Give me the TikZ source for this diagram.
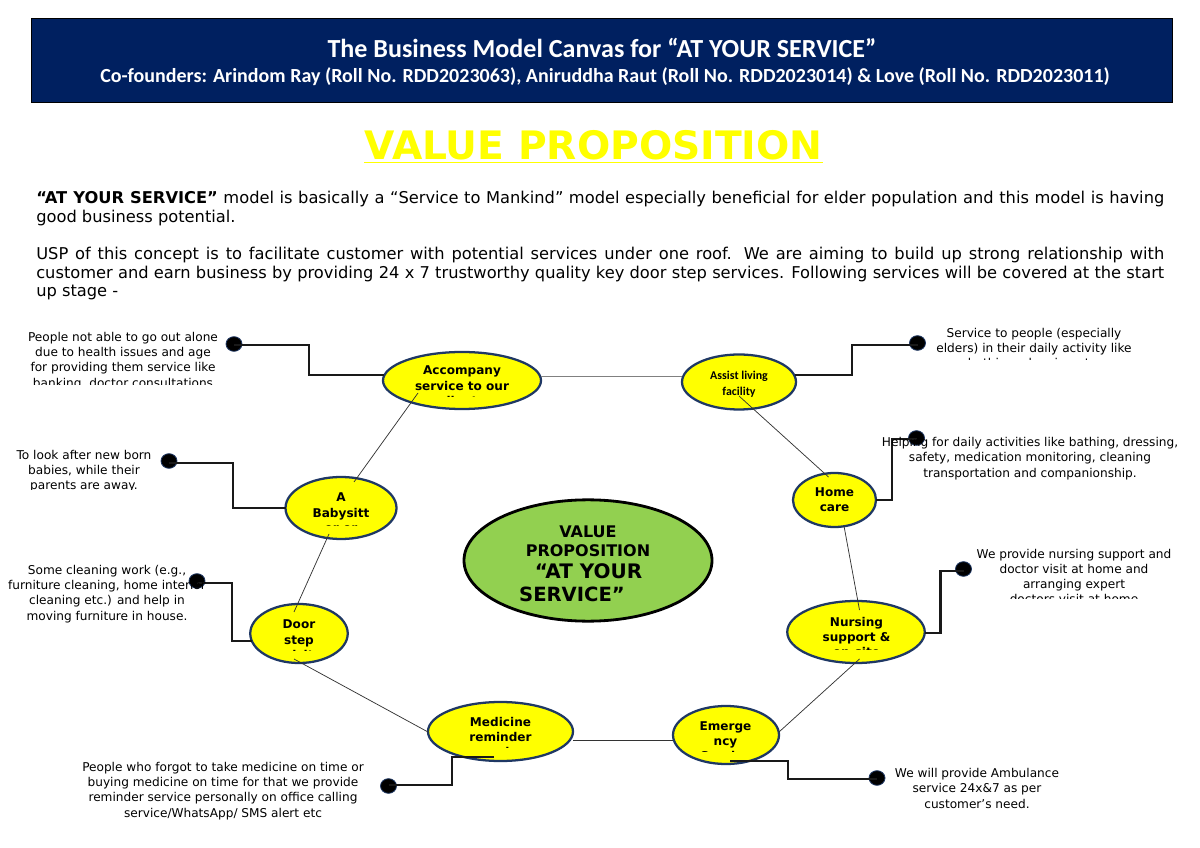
\documentclass[tikz,border=0pt]{standalone}
\usepackage{fontspec}
\setmainfont{DejaVu Sans}
\newfontfamily\calib{Carlito}
\usetikzlibrary{shapes.geometric,calc}
\definecolor{navy}{HTML}{002060}
\definecolor{rimblue}{HTML}{1F3864}
\definecolor{oval}{HTML}{FFFF00}
\definecolor{centre}{HTML}{92D050}
\newcommand{\lblfont}{\fontsize{9.1}{11.4}\selectfont}
\newcommand{\ovalfont}{\fontsize{9.05}{11.4}\selectfont\bfseries}
\tikzset{
  oel/.style 2 args={ellipse,draw=rimblue,line width=1.7pt,fill=oval,inner sep=0pt,outer sep=0pt,minimum width=#1*.75pt,minimum height=#2*.75pt},
  dotn/.style={ellipse,draw=rimblue,line width=.6pt,fill=black,inner sep=0pt,minimum width=12pt,minimum height=11pt},
  link/.style={line width=.55pt,draw=black!80},
  elbow/.style={line width=1.7pt,draw=black!90,line join=miter},
  lbl/.style={font=\lblfont,align=center,inner sep=0pt,yshift=-1.5pt,execute at begin node=\strut,execute at end node=\strut},
  olbl/.style={font=\ovalfont,align=center,inner sep=0pt,yshift=-1.5pt,execute at begin node=\strut,execute at end node=\strut},
}
\begin{document}
\begin{tikzpicture}[x=.75pt,y=-.75pt]
\useasboundingbox (0,0) rectangle (1200,848);
\fill[white] (0,0) rectangle (1200,848);
% header
\node[draw=black,line width=.6pt,fill=navy,minimum width=855.75pt,minimum height=63pt,inner sep=0pt] (hdr) at (601.5,60) {};
\node[text=white,inner sep=0pt,font=\calib\fontsize{19.55}{22}\selectfont\bfseries] (ttl) at (602,48) {The Business Model Canvas for “AT YOUR SERVICE”};
\node[text=white,inner sep=0pt,font=\calib\fontsize{15}{18}\selectfont\bfseries] (sub) at (605,77) {Co-founders: Arindom Ray (Roll No. RDD2023063), Aniruddha Raut (Roll No. RDD2023014) \& Love (Roll No. RDD2023011)};
% heading
\node[text=oval,inner sep=0pt,font=\fontsize{29.4}{32}\selectfont\bfseries] (vp) at (593.5,147) {\underline{VALUE PROPOSITION}};
% paragraph
\node[anchor=north west,inner sep=0pt,text width=846pt,align=justify,font=\fontsize{12.2}{14}\selectfont] (para) at (36,191) {\tolerance=9999\hbadness=10000\hfuzz=20pt\textbf{“AT YOUR SERVICE”} model is basically a “Service to Mankind” model especially beneficial for elder population and this model is having\linebreak good business potential.\\[14pt]
USP of this concept is to facilitate customer with potential services under one roof. We are aiming to build up strong relationship with\linebreak customer and earn business by providing 24 x 7 trustworthy quality key door step services. Following services will be covered at the start\linebreak up stage -};
% ovals
\node[oel={158}{57}] (acc) at (462,380.5) {};
\node[oel={114}{55}] (assist) at (739,382) {};
\node[oel={83}{54}] (home) at (834.5,500) {};
\node[oel={137.5}{62}] (nurs) at (856,632) {};
\node[oel={106}{58}] (emer) at (726,735) {};
\node[oel={145}{59}] (med) at (500.5,731.5) {};
\node[oel={97.5}{59}] (door) at (299,633.5) {};
\node[oel={111}{62}] (baby) at (341,508) {};
\node[ellipse,draw=black,line width=2.1pt,fill=centre,inner sep=0pt,minimum width=186pt,minimum height=91pt] (val) at (588,560.5) {};
% dots
\node[dotn] (d1) at (234,344) {};
\node[dotn] (d2) at (169,461) {};
\node[dotn] (d3) at (197,581) {};
\node[dotn] (d4) at (388.5,786) {};
\node[dotn] (d5) at (877,778) {};
\node[dotn] (d6) at (963.5,569) {};
\node[dotn] (d7) at (916.5,438) {};
\node[dotn] (d8) at (917.5,343) {};
% thin links
\draw[link,draw=black!50] ($(acc)+(79,-3.8)$) -- ($(assist)+(-57,-5.3)$);
\draw[link] ($(acc)+(-44,12.5)$) -- ($(baby)+(13,-26)$);
\draw[link] ($(baby)+(-12,26)$) -- ($(door)+(-5,-21.5)$);
\draw[link] ($(door)+(-5,25.5)$) -- ($(med)+(-72.5,0.5)$);
\draw[link] ($(med)+(72.5,8.5)$) -- ($(emer)+(-53,5)$);
\draw[link] ($(emer)+(53,-3)$) -- ($(nurs)+(3.5,27)$);
\draw[link] ($(nurs)+(3.5,-22)$) -- ($(home)+(9.5,26)$);
\draw[link] ($(home)+(-6,-23)$) -- ($(assist)+(0,14)$);
% elbows
\draw[elbow] ($(d1)+(0,1)$) -- (309,345) -- (309,375) -- ($(acc)+(-78,-5.5)$);
\draw[elbow] ($(d2)+(0,2)$) -- (233,463) -- (233,508) -- (baby.west);
\draw[elbow] ($(d3)+(0,2)$) -- (232,583) -- (232,641) -- ($(door)+(-47,7.5)$);
\draw[elbow] ($(d4)+(0,-1)$) -- (452,785) -- (452,757) -- ($(med)+(-6.5,25.5)$);
\draw[elbow] ($(d5)+(0,1)$) -- (788,779) -- (788,761) -- ($(emer)+(4,26)$);
\draw[elbow] ($(d6)+(0,2)$) -- (940.5,571) -- (940.5,633) -- ($(nurs)+(68.5,1)$);
\draw[elbow] ($(d7)+(0,1)$) -- (892,439) -- (892,500) -- (home.east);
\draw[elbow] ($(d8)+(0,2)$) -- (852,345) -- (852,375) -- ($(assist)+(56,-7)$);
% oval texts
\node[font=\calib\fontsize{8.95}{11.8}\selectfont\bfseries,align=center,inner sep=0pt,yshift=-1.5pt] (tassist) at (739,382) {Assist living\\facility};
\node[olbl] (thome) at (834.5,500) {Home\\care};
\begin{scope}\clip (0,0) rectangle (1200,397);\node[olbl] (tacc) at (462,386) {Accompany\\service to our\\clients};\end{scope}
\begin{scope}\clip (0,0) rectangle (1200,525.5);\node[olbl] (tbaby) at (341,513) {A\\Babysitt\\er or};\end{scope}
\begin{scope}\clip (0,0) rectangle (1200,650);\node[olbl] (tdoor) at (299,640) {Door\\step\\visit};\end{scope}
\begin{scope}\clip (0,0) rectangle (1200,747.5);\node[olbl] (tmed) at (500.5,737) {Medicine\\reminder\\service};\end{scope}
\begin{scope}\clip (0,0) rectangle (1200,751);\node[olbl] (temer) at (725.5,741.5) {Emerge\\ncy\\Service};\end{scope}
\begin{scope}\clip (0,0) rectangle (1200,649.5);\node[olbl] (tnurs) at (856.5,637) {Nursing\\support \&\\on-site};\end{scope}
% centre text
\node[inner sep=0pt,align=center,font=\fontsize{12}{14}\selectfont\bfseries] (tv1) at (588,541) {VALUE\\PROPOSITION};
\begin{scope}\clip (0,0) rectangle (1200,602);
\node[inner sep=0pt,font=\fontsize{15}{17}\selectfont\bfseries] (tv2) at (588.5,571.5) {“AT YOUR};
\node[inner sep=0pt,font=\fontsize{14.7}{17}\selectfont\bfseries] (tv3) at (572,594) {SERVICE”};
\end{scope}
% labels
\begin{scope}\clip (0,0) rectangle (1200,385);\node[lbl] (t1) at (123,360) {People not able to go out alone\\due to health issues and age\\for providing them service like\\banking, doctor consultations};\end{scope}
\begin{scope}\clip (0,0) rectangle (1200,490);\node[lbl] (t2) at (84,470) {To look after new born\\babies, while their\\parents are away.};\end{scope}
\node[lbl] (t3) at (107,593) {Some cleaning work (e.g.,\\furniture cleaning, home interior\\cleaning etc.) and help in\\moving furniture in house.};
\node[lbl] (t4) at (223,790) {People who forgot to take medicine on time or\\buying medicine on time for that we provide\\reminder service personally on office calling\\service/WhatsApp/ SMS alert etc};
\node[lbl] (t5) at (977,788.5) {We will provide Ambulance\\service 24x\&7 as per\\customer’s need.};
\begin{scope}\clip (0,0) rectangle (1200,598);\node[lbl] (t6) at (1074,576.5) {We provide nursing support and\\doctor visit at home and\\arranging expert\\doctors visit at home};\end{scope}
\node[lbl] (t7) at (1030,457.5) {Helping for daily activities like bathing, dressing,\\safety, medication monitoring, cleaning\\transportation and companionship.};
\begin{scope}\clip (0,0) rectangle (1200,360);\node[lbl] (t8) at (1034,348) {Service to people (especially\\elders) in their daily activity like\\bathing, cleaning etc.};\end{scope}
\end{tikzpicture}
\end{document}
